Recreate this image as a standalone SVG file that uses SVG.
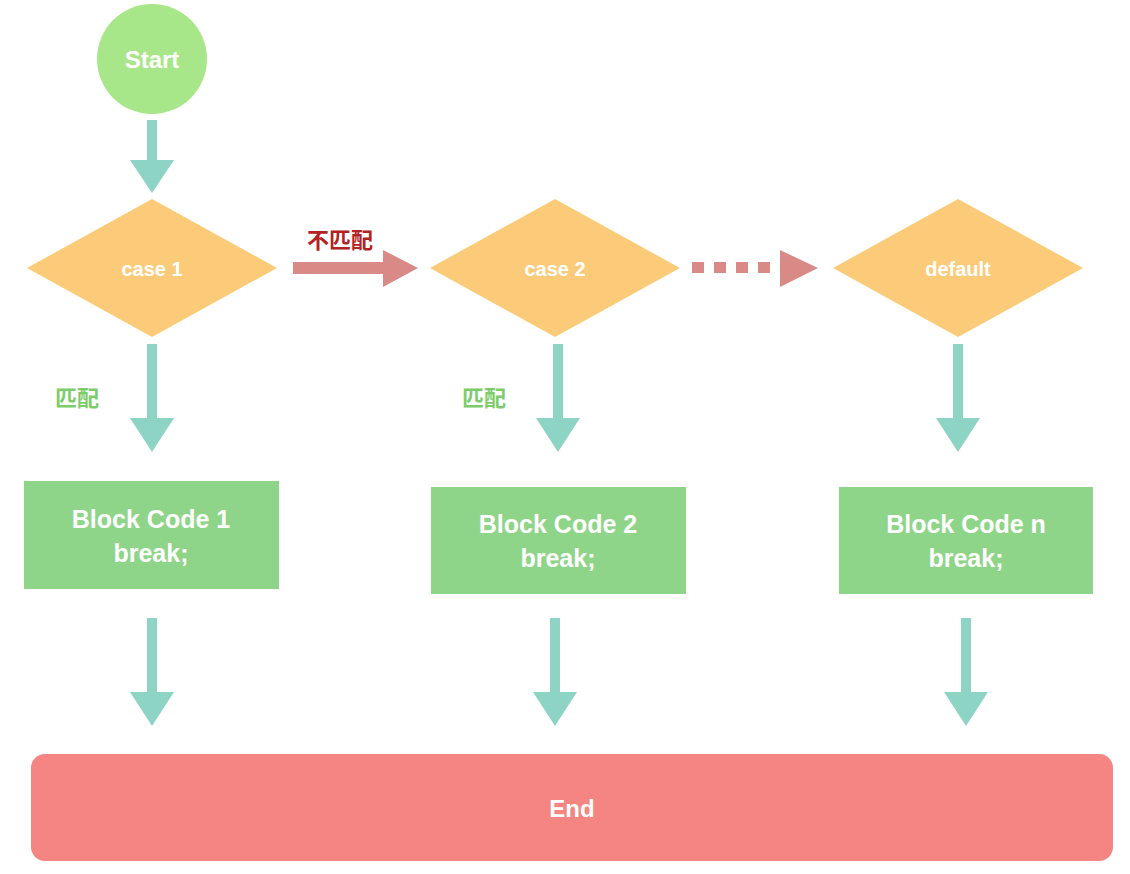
<svg xmlns="http://www.w3.org/2000/svg" width="1130" height="874" viewBox="0 0 1130 874">
<style>
text{font-family:"Liberation Sans",Arial,"Noto Sans CJK SC",sans-serif;font-weight:bold;text-anchor:middle}
.w{fill:#fff}
.t{fill:#8dd4c4}
.r{fill:#d98a86}
</style>
<rect width="1130" height="874" fill="#fff"/>
<g id="start"><circle cx="152" cy="59" r="55" fill="#a8e68a"/><text class="w" x="152" y="68" font-size="24">Start</text></g>
<g id="case1"><polygon points="27,268 152,199 277,268 152,337" fill="#fccb7a"/><text class="w" x="152" y="276" font-size="20">case 1</text></g>
<g id="case2"><polygon points="430,268 555,199 680,268 555,337" fill="#fccb7a"/><text class="w" x="555" y="276" font-size="20">case 2</text></g>
<g id="default"><polygon points="833,268 958,199 1083,268 958,337" fill="#fccb7a"/><text class="w" x="958" y="276" font-size="20">default</text></g>
<g id="block1"><rect x="24" y="481" width="255" height="108" fill="#8fd589"/><text class="w" x="151" y="528" font-size="25">Block Code 1</text><text class="w" x="151" y="562" font-size="25">break;</text></g>
<g id="block2"><rect x="431" y="487" width="255" height="107" fill="#8fd589"/><text class="w" x="558" y="533" font-size="25">Block Code 2</text><text class="w" x="558" y="567" font-size="25">break;</text></g>
<g id="blockn"><rect x="839" y="487" width="254" height="107" fill="#8fd589"/><text class="w" x="966" y="533" font-size="25">Block Code n</text><text class="w" x="966" y="567" font-size="25">break;</text></g>
<g id="end"><rect x="31" y="754" width="1082" height="107" rx="14" fill="#f48582"/><text class="w" x="572" y="817" font-size="24">End</text></g>
<g id="connectors">
<path class="t" d="M147,120h10v40h17l-22,33l-22,-33h17z"/>
<path class="t" d="M147,344h10v74h17l-22,34l-22,-34h17z"/>
<path class="t" d="M553,344h10v74h17l-22,34l-22,-34h17z"/>
<path class="t" d="M953,344h10v74h17l-22,34l-22,-34h17z"/>
<path class="t" d="M147,618h10v74h17l-22,34l-22,-34h17z"/>
<path class="t" d="M550,618h10v74h17l-22,34l-22,-34h17z"/>
<path class="t" d="M961,618h10v74h17l-22,34l-22,-34h17z"/>
<path class="r" d="M293,262h90v-12l35,18l-35,19v-13h-90z"/>
<g class="r"><rect x="692" y="262" width="12" height="11"/><rect x="714" y="262" width="12" height="11"/><rect x="736" y="262" width="12" height="11"/><rect x="758" y="262" width="12" height="11"/><path d="M780,250l38,18l-38,19z"/></g>
<text x="340" y="248" font-size="22" fill="#b22222">不匹配</text>
<text x="77" y="406" font-size="22" fill="#7ccd6a">匹配</text>
<text x="484" y="406" font-size="22" fill="#7ccd6a">匹配</text>
</g>
</svg>
